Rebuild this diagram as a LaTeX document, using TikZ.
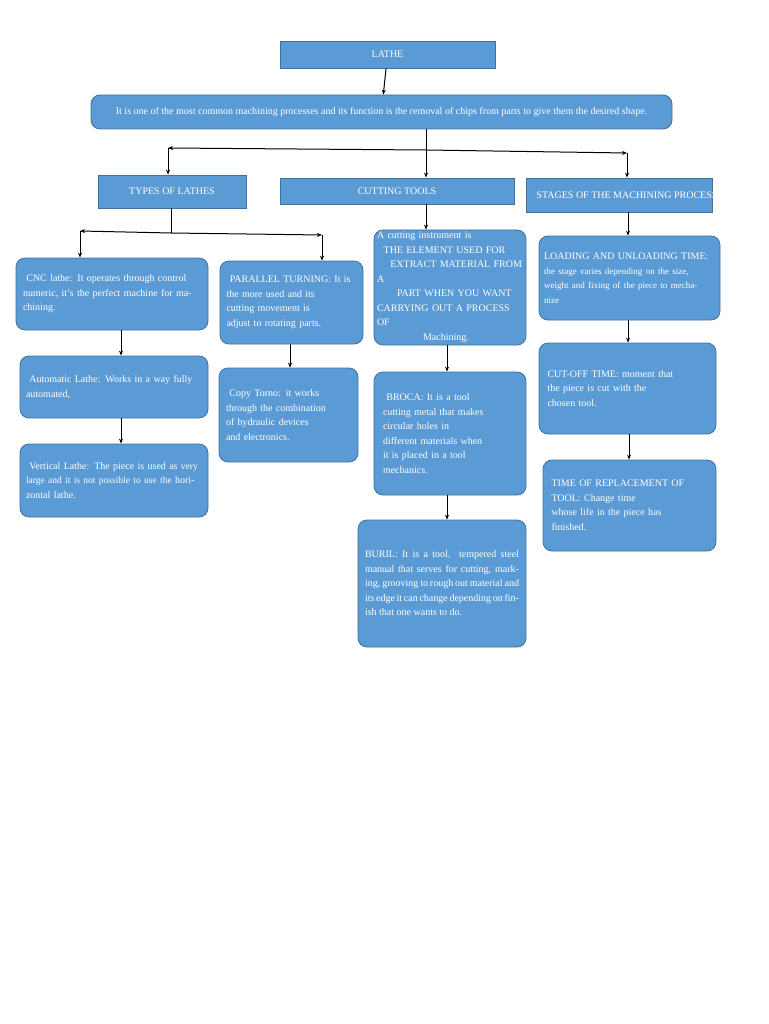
\documentclass[tikz,border=0pt]{standalone}
\usepackage{fontspec}
\setmainfont{Liberation Serif}
\usetikzlibrary{arrows.meta}
\begin{document}
\begin{tikzpicture}[x=1pt,y=-1pt,
  bx/.style={draw=boxb,fill=boxf,text=white,line width=0.8pt,inner sep=0pt,font=\fontsize{10}{14.5}\selectfont},
  rb/.style={bx,rounded corners=9pt},
  ar/.style={-{Stealth[length=5pt,width=4pt]},line width=1pt}]
\definecolor{boxf}{HTML}{5B9BD5}
\definecolor{boxb}{HTML}{41719C}
\useasboundingbox (0,0) rectangle (768,1024);
\node[bx,minimum width=215,minimum height=27,align=center] (lathe) at (387.5,54.5) {LATHE};
\node[rb,minimum width=581,minimum height=34,align=center] (main) at (381.5,112) {It is one of the most common machining processes and its function is the removal of chips from parts to give them the desired shape.};
\node[bx,minimum width=148,minimum height=33,align=center] (types) at (172,191.5) {TYPES OF LATHES};
\node[bx,minimum width=234,minimum height=26,align=center] (cut) at (397,191) {CUTTING TOOLS};
\node[bx,minimum width=186,minimum height=34] (stages) at (619,195) {};
\begin{scope}
\clip (stages.south west) rectangle (stages.north east);
\node[text=white,font=\fontsize{10}{12}\selectfont,anchor=west] at (533,195) {STAGES OF THE MACHINING PROCESS};
\end{scope}
\node[rb,minimum width=192,minimum height=72,text width=178,align=left] (cnc) at (112,294) {\ CNC lathe: It operates through control numeric, it's the perfect machine for machining.};
\node[rb,minimum width=143,minimum height=83,text width=130,align=left] (par) at (291.5,302.5) {\ PARALLEL TURNING: It is the more used and its\\cutting movement is\\adjust to rotating parts.};
\node[rb,minimum width=152,minimum height=115,text width=146,align=left] (inst) at (450,287.5) {A cutting instrument is\\\ \ THE ELEMENT USED FOR\\\ \ \ \ EXTRACT MATERIAL FROM A\\\ \ \ \ \ \ PART WHEN YOU WANT\\CARRYING OUT A PROCESS OF\\\hspace*{46pt}Machining.};
\node[rb,minimum width=181,minimum height=84,text width=171,align=left] (load) at (629.5,278) {LOADING AND UNLOADING TIME:\\{\fontsize{9}{14.5}\selectfont the stage varies depending on the size, weight and fixing of the piece to mechanize}};
\node[rb,minimum width=188,minimum height=62,text width=176,align=left] (auto) at (114,387) {\ Automatic Lathe: Works in a way fully automated,};
\node[rb,minimum width=139,minimum height=94,text width=125,align=left] (copy) at (288.5,415) {\ Copy Torno: it works\\through the combination\\of hydraulic devices\\and electronics.};
\node[rb,minimum width=152,minimum height=123,text width=134,align=left] (broca) at (450,433.5) {\ BROCA: It is a tool\\cutting metal that makes\\circular holes in\\different materials when\\it is placed in a tool\\mechanics.};
\node[rb,minimum width=177,minimum height=91,text width=160,align=left] (cutoff) at (627.5,388.5) {CUT-OFF TIME: moment that\\the piece is cut with the\\chosen tool.};
\node[rb,minimum width=188,minimum height=73,text width=176,align=left] (vert) at (114,480.5) {\ Vertical Lathe: The piece is used as {\fontsize{9.5}{14.5}\selectfont very large and it is not possible to use the} horizontal lathe.};
\node[rb,minimum width=173,minimum height=91,text width=156,align=left] (time) at (629.5,505.5) {TIME OF REPLACEMENT OF\\TOOL: Change time\\whose life in the piece has\\finished.};
\node[rb,minimum width=168,minimum height=127,text width=154,align=justify] (buril) at (442,583.5) {BURIL: It is a tool. tempered steel manual that serves for cutting, marking, grooving to rough out material and its edge it can change depending on finish that one wants to do.};
% connectors
\draw[ar] (lathe) -- (main);
\coordinate (j1) at (426,150);
\coordinate (jl) at (168,148);
\coordinate (jr) at (627,153);
\draw[ar] (main.south -| j1) -- (cut.north -| j1);
\draw[ar] (j1) -- (jl);
\draw[ar] (j1) -- (jr);
\draw[ar] (jl) -- (types.north -| jl);
\draw[ar] (jr) -- (stages.north -| jr);
\coordinate (t1) at (171,233);
\coordinate (tl) at (80,231);
\coordinate (tr) at (322,235);
\draw[line width=1pt] (types.south -| t1) -- (t1);
\draw[ar] (t1) -- (tl);
\draw[ar] (t1) -- (tr);
\draw[ar] (tl) -- (cnc.north -| tl);
\draw[ar] (tr) -- (par.north -| tr);
\coordinate (c1) at (426,0);
\draw[ar] (cut.south -| c1) -- (inst.north -| c1);
\coordinate (s1) at (628,0);
\draw[ar] (stages.south -| s1) -- (load.north -| s1);
\coordinate (b1) at (447,0);
\draw[ar] (inst.south -| b1) -- (broca.north -| b1);
\draw[ar] (broca.south -| b1) -- (buril.north -| b1);
\coordinate (l1) at (121,0);
\draw[ar] (cnc.south -| l1) -- (auto.north -| l1);
\draw[ar] (auto.south -| l1) -- (vert.north -| l1);
\coordinate (p1) at (290,0);
\draw[ar] (par.south -| p1) -- (copy.north -| p1);
\draw[ar] (load.south -| s1) -- (cutoff.north -| s1);
\coordinate (s2) at (629,0);
\draw[ar] (cutoff.south -| s2) -- (time.north -| s2);
\end{tikzpicture}
\end{document}
